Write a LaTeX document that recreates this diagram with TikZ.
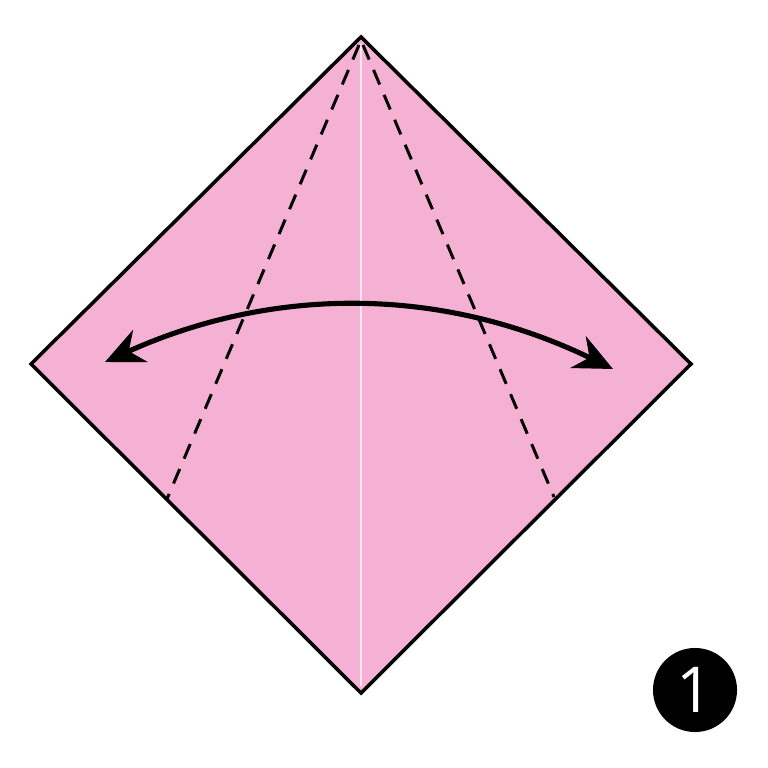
\documentclass[tikz,border=0pt]{standalone}
\usepackage{fontspec}
\setsansfont{Open Sans}
\usepackage{tikz}
\usetikzlibrary{positioning, arrows.meta}

\definecolor{paperpink}{HTML}{F5B1D3}

\begin{document}
\begin{tikzpicture}[
    x=0.01cm, y=-0.01cm,
    paper/.style={fill=paperpink, draw=black, line width=1pt, line join=miter},
    crease/.style={draw=white!70!paperpink, line width=0.5pt},
    valley/.style={draw=black, line width=0.85pt, dash pattern=on 4.5pt off 3.2pt},
    swing/.style={{Stealth[length=11pt, width=10pt]}-{Stealth[length=11pt, width=10pt]}, line width=1.45pt},
    badge/.style={circle, fill=black, minimum size=0.84cm, inner sep=0pt, text=white, font=\sffamily\fontsize{18}{18}\selectfont}
]

    % Frame
    \useasboundingbox (0,0) rectangle (768,768);

    % Corners of the square
    \coordinate (top) at (361,37);
    \coordinate (left) at (31,364);
    \coordinate (right) at (691,364);
    \coordinate (bottom) at (361,693);

    % Paper
    \draw[paper] (top) -- (right) -- (bottom) -- (left) -- cycle;

    % Centre crease
    \draw[crease] ([yshift=-2pt]top) -- ([yshift=2pt]bottom);

    % Fold lines
    \coordinate (leftend) at (167,499);
    \coordinate (rightend) at (554,497);
    \draw[valley] ([shift={(-2,8)}]top) -- (leftend);
    \draw[valley] ([shift={(2,8)}]top) -- (rightend);

    % Fold arrow
    \coordinate (swingl) at (105,362);
    \coordinate (swingr) at (613,369);
    \draw[swing] (swingl) .. controls (275,285) and (444,287) .. (swingr);

    % Step number
    \node[badge] (stepnum) at (695,690) {1};

\end{tikzpicture}
\end{document}
